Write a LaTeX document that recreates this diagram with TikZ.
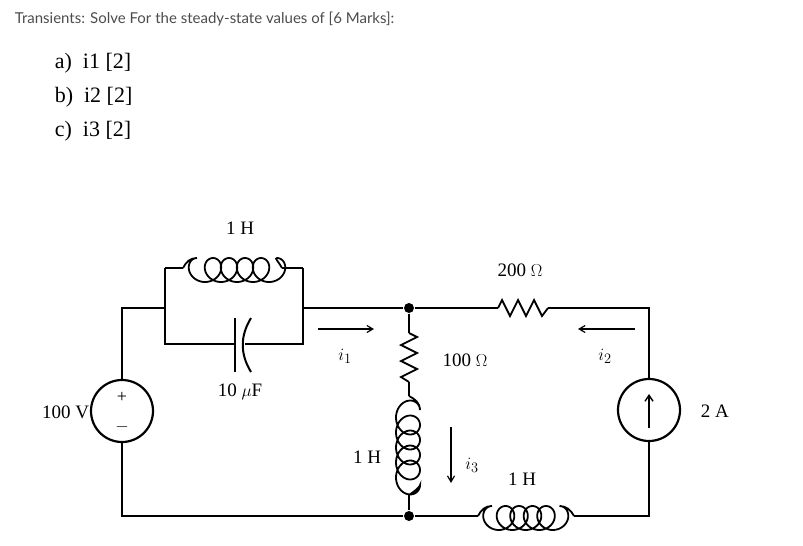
\documentclass[tikz,border=0pt]{standalone}
\usepackage{fontspec}
\setmainfont{Liberation Serif}
\newfontfamily\hdr{Lato}
\usetikzlibrary{arrows.meta}
\begin{document}
\begin{tikzpicture}[x=1pt,y=-1pt,line width=1.6pt,
  wire/.style={line width=1.6pt},
  lbl/.style={font=\fontsize{19}{19}\selectfont,inner sep=0pt},
  arr/.style={line width=1.2pt,-{Straight Barb[length=6pt,width=7pt]}},
  dotn/.style={circle,fill=black,inner sep=0pt,minimum size=10pt},
  src/.style={circle,draw,line width=2.2pt,minimum size=62pt,inner sep=0pt}]
\useasboundingbox (0,0) rectangle (803,546);
\node[anchor=west,font=\hdr\fontsize{15}{15}\selectfont,text=black!70,inner sep=0pt] (hd) at (14,19) {Transients: Solve For the steady-state values of [6 Marks]:};
\node[anchor=west,font=\fontsize{22}{22}\selectfont,inner sep=0pt] (qa) at (54,63) {a)\ \ i1 [2]};
\node[anchor=west,font=\fontsize{22}{22}\selectfont,inner sep=0pt] (qb) at (54,97) {b)\ \ i2 [2]};
\node[anchor=west,font=\fontsize{22}{22}\selectfont,inner sep=0pt] (qc) at (54,131) {c)\ \ i3 [2]};
% sources and nodes
\node[src] (vs) at (122,411) {};
\node[font=\fontsize{18}{18}\selectfont] (pl) at (122,397) {+};
\node[font=\fontsize{18}{18}\selectfont] (mi) at (122,427) {$-$};
\node[src] (cs) at (649,410) {};
\draw[line width=1.4pt,-{Straight Barb[length=6pt,width=8pt]}] (649,428) -- (649,394);
\node[dotn] (n1) at (409,308) {};
\node[dotn] (n2) at (409,516) {};
\coordinate (tl) at (122,308);
\coordinate (bl) at (122,516);
\coordinate (tr) at (649,308);
\coordinate (br) at (649,516);
% wires
\draw[wire] (vs.north) -- (tl) -- (165,308);
\draw[wire] (vs.south) -- (bl) -- (n2) -- (478,516);
\draw[wire] (574,516) -- (br) -- (cs.south);
\draw[wire] (cs.north) -- (tr) -- (548,308);
\draw[wire] (303,308) -- (n1) -- (498,308);
% parallel box
\draw[wire] (165,268) -- (165,344) -- (235,344);
\draw[wire] (183,268) -- (165,268);
\draw[wire] (303,268) -- (303,344) -- (245,344);
\draw[wire] (282,268) -- (303,268);
% capacitor
\draw[line width=2pt] (235,318) -- (235,372);
\draw[line width=2pt] (251,318) .. controls (240,336) and (240,354) .. (251,372);
% top inductor
\draw[line width=1.8pt] (183,268) .. controls (186,262) and (190,258) .. (197,258)
  -- plot[domain=0:1800,samples=220] ({197+0.0444444*\x-12*sin(\x)},{270-12*cos(\x)})
  .. controls (274,258) and (279,262) .. (282,268);
% bottom inductor
\draw[line width=1.8pt] (478,516) .. controls (481,510) and (485,506) .. (492,506)
  -- plot[domain=0:1800,samples=220] ({492+0.0375*\x-12*sin(\x)},{518-12*cos(\x)})
  .. controls (566,506) and (571,510) .. (574,516);
% vertical inductor
\draw[line width=1.8pt] (409,396) .. controls (415,399) and (420,403) .. (420,410)
  -- plot[domain=0:1800,samples=220] ({408+12*cos(\x)},{410+0.0416667*\x-13*sin(\x)})
  .. controls (420,487) and (415,491) .. (409,495);
\draw[wire] (n1) -- (409,333);
\draw[wire] (409,382) -- (409,396);
\draw[wire] (409,495) -- (n2);
% resistors
\draw[line width=1.8pt] (498,308) -- (502,300) -- (510,316) -- (518,300) -- (526,316) -- (534,300) -- (542,316) -- (548,308);
\draw[line width=1.8pt] (409,333) -- (417,337) -- (401,345) -- (417,353) -- (401,361) -- (417,369) -- (401,377) -- (409,382);
% arrows
\draw[arr] (318,329) -- (374,329);
\draw[arr] (635,329) -- (578,329);
\draw[arr] (451,427) -- (451,483);
% labels
\node[lbl] (l1) at (240,228) {1 H};
\node[lbl] (l2) at (240,392) {10 $\mu$F};
\node[lbl] (l3) at (520,270) {200 $\Omega$};
\node[lbl] (l4) at (465,360) {100 $\Omega$};
\node[lbl] (l5) at (367,457) {1 H};
\node[lbl] (l6) at (522,479) {1 H};
\node[lbl,anchor=east] (l7) at (90,412) {100 V};
\node[lbl,anchor=west] (l8) at (700,411) {2 A};
\node[lbl] (i1) at (345,356) {$i_1$};
\node[lbl] (i2) at (605,356) {$i_2$};
\node[lbl] (i3) at (472,465) {$i_3$};
\end{tikzpicture}
\end{document}
